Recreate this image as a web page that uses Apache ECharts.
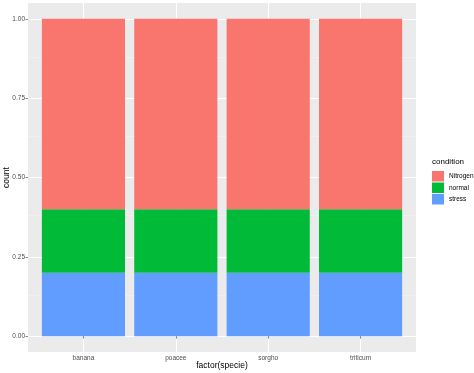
<!DOCTYPE html>
<html><head><meta charset="utf-8">
<script src="https://cdn.jsdelivr.net/npm/echarts@6/dist/echarts.min.js"></script>
<style>html,body{margin:0;padding:0;background:#fff}#c{width:474px;height:373px}</style>
</head><body><div id="c"></div>
<script>
const categories = ['banana', 'poacee', 'sorgho', 'triticum'];
const stressValues = [0.2, 0.2, 0.2, 0.2];
const normalValues = [0.2, 0.2, 0.2, 0.2];
const nitrogenValues = [0.6, 0.6, 0.6, 0.6];
const yTicks = [0, 0.25, 0.5, 0.75, 1];
const yMinor = [0.125, 0.375, 0.625, 0.875];
const yTickLabels = ['0.00', '0.25', '0.50', '0.75', '1.00'];
const xPositions = categories.map((c, i) => i + 1);

const chart = echarts.init(document.getElementById('c'), null, {renderer: 'canvas'});
const font = 'Liberation Sans, Arial, sans-serif';
// panel: x 28..416, y 3..352 ; discrete expansion 0.6 units each side
const panelL = 28, panelR = 416, panelW = panelR - panelL;
const unit = panelW / (categories.length - 1 + 1.2);
const bandL = panelL + (0.5 - 0.4) * unit;
chart.setOption({
  animation: false,
  grid: [
    {left: panelL, right: 474 - panelR, top: 3, bottom: 21, show: true, backgroundColor: '#EBEBEB', borderWidth: 0, containLabel: false, outerBoundsMode: 'none'},
    {left: bandL, width: unit * categories.length, top: 3, bottom: 21, show: false, containLabel: false, outerBoundsMode: 'none'}
  ],
  title: {text: 'condition', left: 427, top: 153, textStyle: {fontFamily: font, fontSize: 8, fontWeight: 'normal', color: '#000'}},
  legend: {
    orient: 'vertical', left: 427, top: 166, itemWidth: 12, itemHeight: 10.5, itemGap: 1,
    data: ['Nitrogen', 'normal', 'stress'],
    icon: 'rect',
    textStyle: {fontFamily: font, fontSize: 6.5, color: '#000'},
    selectedMode: false
  },
  xAxis: [{
    gridIndex: 0, type: 'value', min: 0.4, max: 4.6,
    name: 'factor(specie)', nameLocation: 'middle', nameGap: 9, nameMoveOverlap: false,
    nameTextStyle: {fontFamily: font, fontSize: 8.5, color: '#000'},
    axisLine: {show: false},
    axisTick: {show: true, length: 2.5, lineStyle: {color: '#333', width: 0.6}, customValues: xPositions},
    axisLabel: {customValues: xPositions, formatter: v => categories[Math.round(v) - 1] || '', fontFamily: font, fontSize: 6.5, color: '#4D4D4D', margin: 3},
    splitLine: {show: true, lineStyle: {color: '#fff', width: 1}}
  }, {
    gridIndex: 1, type: 'category', data: categories,
    axisLine: {show: false}, axisTick: {show: false}, axisLabel: {show: false}, splitLine: {show: false}
  }],
  yAxis: [{
    gridIndex: 0, type: 'value', min: -0.05, max: 1.05,
    name: 'count', nameLocation: 'middle', nameGap: 17, nameMoveOverlap: false,
    nameTextStyle: {fontFamily: font, fontSize: 8.5, color: '#000'},
    axisLine: {show: false},
    axisTick: {show: true, length: 2.5, lineStyle: {color: '#333', width: 0.6}, customValues: yTicks},
    axisLabel: {customValues: yTicks, formatter: v => yTickLabels[yTicks.findIndex(t => Math.abs(t - v) < 1e-6)] || '', fontFamily: font, fontSize: 6.5, color: '#4D4D4D', margin: 3},
    splitLine: {show: true, lineStyle: {color: '#fff', width: 1}}
  }, {
    gridIndex: 1, type: 'value', min: -0.05, max: 1.05,
    axisLine: {show: false}, axisTick: {show: false}, axisLabel: {show: false}, splitLine: {show: false}
  }],
  series: [
    {type: 'line', xAxisIndex: 0, yAxisIndex: 0, data: [], silent: true, z: 1,
     markLine: {silent: true, symbol: 'none', label: {show: false}, animation: false, lineStyle: {color: '#F4F4F4', width: 0.6, type: 'solid'},
       data: yMinor.map(v => ({yAxis: v}))}},
    {name: 'stress', type: 'bar', stack: 's', xAxisIndex: 1, yAxisIndex: 1, data: stressValues, barWidth: '90%', z: 5, itemStyle: {color: '#619CFF'}},
    {name: 'normal', type: 'bar', stack: 's', xAxisIndex: 1, yAxisIndex: 1, data: normalValues, barWidth: '90%', z: 5, itemStyle: {color: '#00BA38'}},
    {name: 'Nitrogen', type: 'bar', stack: 's', xAxisIndex: 1, yAxisIndex: 1, data: nitrogenValues, barWidth: '90%', z: 5, itemStyle: {color: '#F8766D'}}
  ]
});
</script></body></html>
